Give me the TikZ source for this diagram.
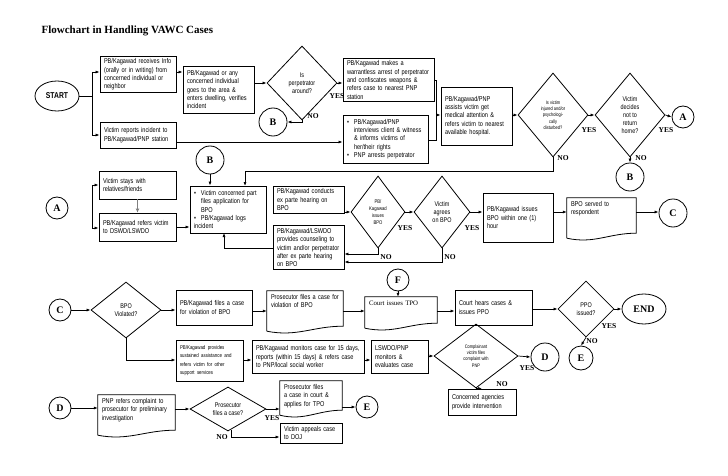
\documentclass[tikz,border=0pt]{standalone}
\usepackage{fontspec}
\setmainfont{Liberation Serif}
\newfontfamily\ar{Liberation Sans}[FakeStretch=0.8]
\usetikzlibrary{shapes.geometric,arrows.meta,calc}
\begin{document}
\lefthyphenmin=64 \hyphenpenalty=10000
\begin{tikzpicture}[x=1pt,y=-1pt,
 ln/.style={line width=0.7pt},
 ar/.style={ln,-{Latex[length=4pt,width=3pt]}},
 box/.style={draw,line width=0.8pt,rectangle,inner xsep=4pt,inner ysep=2.5pt,align=left,font=\ar\fontsize{7}{8.4}\selectfont},
 txt/.style={inner xsep=4pt,inner ysep=2.5pt,align=left,font=\ar\fontsize{7}{8.4}\selectfont},
 dia/.style={draw,line width=0.8pt,diamond,inner sep=0pt,align=center,font=\ar\fontsize{6.8}{8.2}\selectfont},
 cir/.style={draw,line width=0.8pt,circle,inner sep=0pt,font=\bfseries\fontsize{10}{10}\selectfont},
 ell/.style={draw,line width=0.8pt,ellipse,inner sep=0pt,font=\bfseries\fontsize{10}{10}\selectfont},
 lab/.style={font=\bfseries\fontsize{7.5}{7.5}\selectfont,inner sep=0pt}]
\newcommand\bx[6]{\pgfmathsetmacro\tw{#3-#1-8}\pgfmathsetmacro\bw{#3-#1}\pgfmathsetmacro\bh{#4-#2}%
 \node[box,minimum width=\bw pt,minimum height=\bh pt,text width=\tw pt] (#5) at ({(#1+#3)/2},{(#2+#4)/2}) {#6};}
\newcommand\dc[7]{\pgfmathsetmacro\tw{#3-#1-8}\pgfmathsetmacro\bw{#3-#1}\pgfmathsetmacro\bh{#4-#2}%
 \node[minimum width=\bw pt,minimum height=\bh pt,inner sep=0pt] (#5) at ({(#1+#3)/2},{(#2+#4)/2}) {};
 \node[txt,text width=\tw pt,anchor=north west,#7] (#5t) at ($(#5.north west)+(0,1)$) {#6};
 \draw[line width=0.8pt] ($(#5.south west)+(0,-2)$) -- (#5.north west) -- (#5.north east) -- ($(#5.south east)+(0,-7)$)
  .. controls ($(#5.south east)+(-\bw*0.4,-7)$) and ($(#5.south west)+(\bw*0.4,4)$) .. ($(#5.south west)+(0,-2)$);}
\newcommand\bl{\hangindent=7pt\hangafter=1\makebox[7pt][l]{\textbullet}}
\useasboundingbox (0,0) rectangle (728,476);
\node[anchor=west,font=\bfseries\fontsize{11}{11}\selectfont] (title) at (38,31) {Flowchart in Handling VAWC Cases};
% row 1
\node[ell,minimum width=44pt,minimum height=30pt,font=\ar\bfseries\fontsize{8.5}{8.5}\selectfont] (start) at (57,96) {START};
\bx{100}{57}{176}{92}{r1}{PB/Kagawad receives Info (orally or in writing) from concerned individual or neighbor}
\bx{183}{66}{254}{113}{r2}{PB/Kagawad or any concerned individual goes to the area \& enters dwelling, verifies incident}
\bx{100}{122}{176}{148}{vr}{Victim reports incident to PB/Kagawad/PNP station}
\node[dia,minimum width=70pt,minimum height=74pt] (d1) at (302,83) {Is\\perpetrator\\around?};
\node[cir,minimum size=28pt] (b1) at (273,122) {B};
\bx{343}{59}{434}{101}{arr}{PB/Kagawad makes a warrantless arrest of perpetrator and confiscates weapons \& refers case to nearest PNP station}
\bx{343}{115}{428}{163}{intv}{\bl PB/Kagawad/PNP interviews client \& witness \& informs victims of her/their rights\par\bl PNP arrests perpetrator}
\bx{441}{87}{512}{145}{asst}{PB/Kagawad/PNP assists victim get medical attention \& refers victim to nearest available hospital.}
\node[dia,minimum width=70pt,minimum height=84pt,font=\ar\fontsize{5}{6.3}\selectfont] (d2) at (553,115) {Is victim\\injured and/or\\psychologi-\\cally\\disturbed?};
\node[dia,minimum width=70pt,minimum height=84pt] (d3) at (630,115) {Victim\\decides\\not to\\return\\home?};
\node[cir,minimum size=22pt] (a1) at (683,117) {A};
\node[cir,minimum size=28pt] (b2) at (630,177) {B};
\node[lab] at (337,96) {YES};
\node[lab] at (313,116) {NO};
\node[lab] at (589,130) {YES};
\node[lab] at (563,158) {NO};
\node[lab] at (666,130) {YES};
\node[lab] at (641,158) {NO};
\draw[ln] (start.east) -- (92,96) coordinate (s1);
\draw[ar] (92,72) -- (r1.west|-92,72);
\draw[ln] (92,72) -- (92,135);
\draw[ar] (92,135) -- (vr.west|-92,135);
\draw[ar] (r1.east|-0,72) -- (r2.west|-0,72);
\draw[ar] (r2.east|-d1.west) -- (d1.west);
\draw[ar] (d1.east) -- (arr.west|-d1.east);
\draw[ar] (d1.south) -- (302,122) -- (b1.east);
\draw[ar] (vr.east|-0,142) -- (intv.west|-0,142);
\draw[ln] (arr.east|-0,80) -- (436,80) -- (436,140) -- (intv.east|-0,140);
\draw[ar] (436,115) -- (asst.west|-0,115);
\draw[ar] (asst.east|-d2.west) -- (d2.west);
\draw[ar] (d2.east) -- (d3.west);
\draw[ar] (d3.east) -- (a1.west);
\draw[ar] (d3.south) -- (b2.north);
% row 2
\node[cir,minimum size=22pt] (a2) at (57,208) {A};
\bx{99}{171}{176}{199}{stay}{Victim stays with relatives/friends}
\bx{99}{213}{176}{241}{refr}{PB/Kagawad refers victim to DSWD/LSWDO}
\node[cir,minimum size=28pt] (b3) at (210,160) {B};
\bx{190}{186}{266}{233}{conc}{\bl Victim concerned part files application for BPO\par\bl PB/Kagawad logs incident}
\bx{273}{186}{344}{213}{hear}{PB/Kagawad conducts ex parte hearing on BPO}
\bx{273}{227}{344}{268}{coun}{PB/Kagawad/LSWDO provides counseling to victim and/or perpetrator after ex parte hearing on BPO}
\node[dia,minimum width=54pt,minimum height=72pt,font=\ar\fontsize{5.3}{6.8}\selectfont] (d4) at (378,212) {PB/\\Kagawad\\issues\\BPO};
\node[dia,minimum width=56pt,minimum height=72pt] (d5) at (442,212) {Victim\\agrees\\on BPO};
\bx{483}{193}{553}{242}{iss}{PB/Kagawad issues BPO within one (1) hour}
\dc{567}{198}{636}{240}{serv}{\centering BPO served to respondent}{}
\node[cir,minimum size=28pt] (c1) at (673,213) {C};
\node[lab] at (405,228) {YES};
\node[lab] at (472,228) {YES};
\node[lab] at (386,257) {NO};
\node[lab] at (450,257) {NO};
\draw[ar] (92,185) -- (stay.west|-0,185);
\draw[ln] (92,185) -- (92,228);
\draw[ar] (92,228) -- (refr.west|-0,228);
\draw[-{Latex[length=4pt,width=4pt]},line width=1.6pt,gray] (stay.south) -- (refr.north);
\draw[ar] (refr.east|-0,227) -- (conc.west|-0,227);
\draw[ar] (b3.south) -- (conc.north-|b3);
\draw[ar] (d2.south) -- (553,171) -- (245,171) -- (245,186);
\draw[ar] (hear.east|-d4.west) -- (d4.west);
\draw[ar] (d4.east) -- (d5.west);
\draw[ar] (d5.east) -- (iss.west|-d5.east);
\draw[ar] (iss.east|-0,212) -- (serv.west|-0,212);
\draw[ar] (serv.east|-0,212) -- (c1.west|-0,212);
\draw[ar] (d4.south) -- (378,254) -- (coun.east|-0,254);
\draw[ar] (d5.south) -- (442,262) -- (coun.east|-0,262);
\draw[ar] (coun.west|-0,248) -- (224,248) -- (224,233);
% row 3
\node[cir,minimum size=22pt] (c2) at (60,310) {C};
\node[dia,minimum width=70pt,minimum height=56pt] (d6) at (126,310) {BPO\\Violated?};
\bx{176}{290}{252}{325}{fv}{PB/Kagawad files a case for violation of BPO}
\dc{267}{291}{343}{333}{pv}{Prosecutor files a case for violation of BPO}{}
\node[cir,minimum size=22pt] (f1) at (398,280) {F};
\dc{365}{297}{437}{330}{tpo}{Court issues TPO}{font=\fontsize{6.8}{8}\selectfont}
\bx{455}{290}{532}{325}{ppo}{Court hears cases \& issues PPO}
\node[dia,minimum width=56pt,minimum height=56pt] (d7) at (586,309) {PPO\\issued?};
\node[ell,minimum width=44pt,minimum height=30pt] (end) at (644,309) {END};
\node[cir,minimum size=24pt] (e1) at (581,358) {E};
\node[lab] at (609,326) {YES};
\node[lab] at (592,341) {NO};
\bx{176}{340}{243}{381}{sus}{\fontsize{5.5}{7.2}\selectfont PB/Kagawad provides sustained assistance and refers victim for other support services}
\bx{252}{340}{364}{373}{mon}{PB/Kagawad monitors case for 15 days, reports (within 15 days) \& refers case to PNP/local social worker}
\bx{371}{340}{428}{373}{lsw}{LSWDO/PNP monitors \& evaluates case}
\node[dia,minimum width=84pt,minimum height=64pt,font=\ar\fontsize{5}{6.3}\selectfont] (d8) at (476,356) {Complainant\\victim files\\complaint with\\PNP};
\node[cir,minimum size=28pt] (d1c) at (545,357) {D};
\node[lab] at (527,368) {YES};
\node[lab] at (502,384) {NO};
\bx{448}{389}{516}{415}{agen}{Concerned agencies provide intervention}
\draw[ar] (c2.east) -- (d6.west);
\draw[ar] (d6.east) -- (fv.west|-d6.east);
\draw[ar] (fv.east|-0,311) -- (pv.west|-0,311);
\draw[ar] (pv.east|-0,311) -- (tpo.west|-0,311);
\draw[ar] (f1.south) -- (tpo.north-|f1);
\draw[ar] (tpo.east|-0,311) -- (ppo.west|-0,311);
\draw[ar] (ppo.east|-d7.west) -- (d7.west);
\draw[ar] (d7.east) -- (end.west);
\draw[ar] (d7.south) -- (e1.north);
\draw[ar] (d6.south) -- (126,360) -- (sus.west|-0,360);
\draw[ar] (sus.east|-0,360) -- (mon.west|-0,360);
\draw[ar] (mon.east|-0,360) -- (lsw.west|-0,360);
\draw[ar] (lsw.east|-d8.west) -- (d8.west);
\draw[ar] (d8.east) -- (d1c.west);
\draw[ar] (d8.south) -- (agen.north);
% row 4
\node[cir,minimum size=22pt] (d2c) at (60,408) {D};
\dc{98}{395}{175}{437}{pnp}{PNP refers complaint to prosecutor for preliminary investigation}{}
\node[dia,minimum width=76pt,minimum height=44pt] (d9) at (228,409) {Prosecutor\\files a case?};
\dc{280}{381}{342}{417}{pct}{Prosecutor files a case in court \& applies for TPO}{}
\node[cir,minimum size=22pt] (e2) at (367,407) {E};
\bx{280}{423}{342}{443}{doj}{Victim appeals case to DOJ}
\node[lab] at (272,418) {YES};
\node[lab] at (222,437) {NO};
\draw[ar] (d2c.east) -- (pnp.west|-d2c.east);
\draw[ar] (pnp.east|-d9.west) -- (d9.west);
\draw[ar] (d9.east) -- (pct.west|-d9.east);
\draw[ar] (pct.east|-e2.west) -- (e2.west);
\draw[ar] (231,430) -- (231,437) -- (doj.west|-0,437);
\end{tikzpicture}
\end{document}
